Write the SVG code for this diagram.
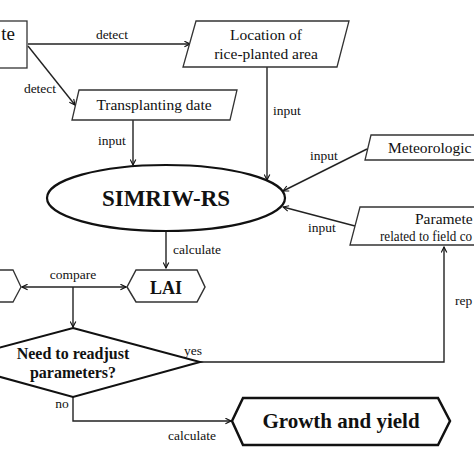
<svg xmlns="http://www.w3.org/2000/svg" width="474" height="474" viewBox="0 0 474 474">
<defs>
<marker id="ah" viewBox="0 0 10 10" refX="9" refY="5" markerWidth="7" markerHeight="7" markerUnits="userSpaceOnUse" orient="auto-start-reverse">
<path d="M1,1 L9,5 L1,9" fill="none" stroke="#111" stroke-width="1.6"/>
</marker>
<style>
.box{fill:#fff;stroke:#333;stroke-width:1.3}
.thick{fill:#fff;stroke:#111;stroke-width:2.2}
.ln{fill:none;stroke:#222;stroke-width:1.4}
.lbl{font-family:"Liberation Serif","Times New Roman",serif;font-size:13.5px;fill:#111}
.txt{font-family:"Liberation Serif","Times New Roman",serif;font-size:15.5px;fill:#111}
.bold{font-family:"Liberation Serif","Times New Roman",serif;font-weight:bold;fill:#111}
</style>
</defs>
<rect width="474" height="474" fill="#fff"/>

<g id="connectors">
<line class="ln" x1="28" y1="44" x2="190" y2="44" marker-end="url(#ah)"/>
<text class="lbl" x="112" y="39" text-anchor="middle">detect</text>
<line class="ln" x1="28" y1="46" x2="75" y2="105" marker-end="url(#ah)"/>
<text class="lbl" x="40" y="93" text-anchor="middle">detect</text>
<line class="ln" x1="133" y1="120" x2="133" y2="165" marker-end="url(#ah)"/>
<text class="lbl" x="112" y="145" text-anchor="middle">input</text>
<line class="ln" x1="267" y1="67" x2="267" y2="180" marker-end="url(#ah)"/>
<text class="lbl" x="287" y="115" text-anchor="middle">input</text>
<line class="ln" x1="367" y1="149" x2="283" y2="191" marker-end="url(#ah)"/>
<text class="lbl" x="324" y="160" text-anchor="middle">input</text>
<line class="ln" x1="355" y1="226" x2="283" y2="207" marker-end="url(#ah)"/>
<text class="lbl" x="322" y="232" text-anchor="middle">input</text>
<line class="ln" x1="166" y1="231" x2="166" y2="268" marker-end="url(#ah)"/>
<text class="lbl" x="197" y="254" text-anchor="middle">calculate</text>
<line class="ln" x1="22" y1="287" x2="126" y2="287" marker-start="url(#ah)" marker-end="url(#ah)"/>
<text class="lbl" x="73" y="279" text-anchor="middle">compare</text>
<line class="ln" x1="73" y1="287" x2="73" y2="327" marker-end="url(#ah)"/>
<polyline class="ln" points="200,362 444,362 444,247" marker-end="url(#ah)"/>
<text class="lbl" x="193" y="355" text-anchor="middle">yes</text>
<text class="lbl" x="455" y="305">rep</text>
<polyline class="ln" points="73,397 73,421 231,421" marker-end="url(#ah)"/>
<text class="lbl" x="62" y="408" text-anchor="middle">no</text>
<text class="lbl" x="192" y="440" text-anchor="middle">calculate</text>
</g>

<g id="node-source">
<rect class="box" x="-10" y="21" width="37" height="47"/>
<text class="txt" x="15" y="40" text-anchor="end" style="font-size:19px">te</text>
</g>

<g id="node-location">
<polygon class="box" points="196,21 349,21 337,67 183,67"/>
<text class="txt" x="266" y="40" text-anchor="middle">Location of</text>
<text class="txt" x="266" y="59" text-anchor="middle">rice-planted area</text>
</g>

<g id="node-transplanting">
<polygon class="box" points="79,90 237,90 230,120 72,120"/>
<text class="txt" x="154" y="110" text-anchor="middle">Transplanting date</text>
</g>

<g id="node-meteorologic">
<polygon class="box" points="371,135 480,135 480,160 365,160"/>
<text class="txt" x="388" y="153">Meteorologic</text>
</g>

<g id="node-parameters">
<polygon class="box" points="360,207 480,207 480,245 350,245"/>
<text class="txt" x="415" y="224">Paramete</text>
<text class="txt" x="380" y="241" style="font-size:14.5px" textLength="92" lengthAdjust="spacingAndGlyphs">related to field co</text>
</g>

<g id="node-simriw">
<ellipse class="thick" cx="166" cy="198" rx="119" ry="33"/>
<text class="bold" x="166" y="206" text-anchor="middle" style="font-size:23px">SIMRIW-RS</text>
</g>

<g id="node-lai">
<polygon class="box" points="127,287 136,270 197,270 205,287 197,302 136,302" style="stroke-width:1.5"/>
<text class="bold" x="166" y="294" text-anchor="middle" style="font-size:18px">LAI</text>
</g>

<g id="node-observed">
<polygon class="box" points="-10,270 13,270 21,287 13,302 -10,302"/>
</g>

<g id="node-decision">
<polygon class="thick" points="73,328 200,362 73,397 -54,362" style="stroke-width:2"/>
<text class="bold" x="73" y="359" text-anchor="middle" style="font-size:16px">Need to readjust</text>
<text class="bold" x="73" y="378" text-anchor="middle" style="font-size:16px">parameters?</text>
</g>

<g id="node-growth">
<polygon class="thick" points="232,421 243,398 438,398 450,421 438,445 243,445" style="stroke-width:2.5"/>
<text class="bold" x="341" y="428" text-anchor="middle" style="font-size:21px">Growth and yield</text>
</g>
</svg>
